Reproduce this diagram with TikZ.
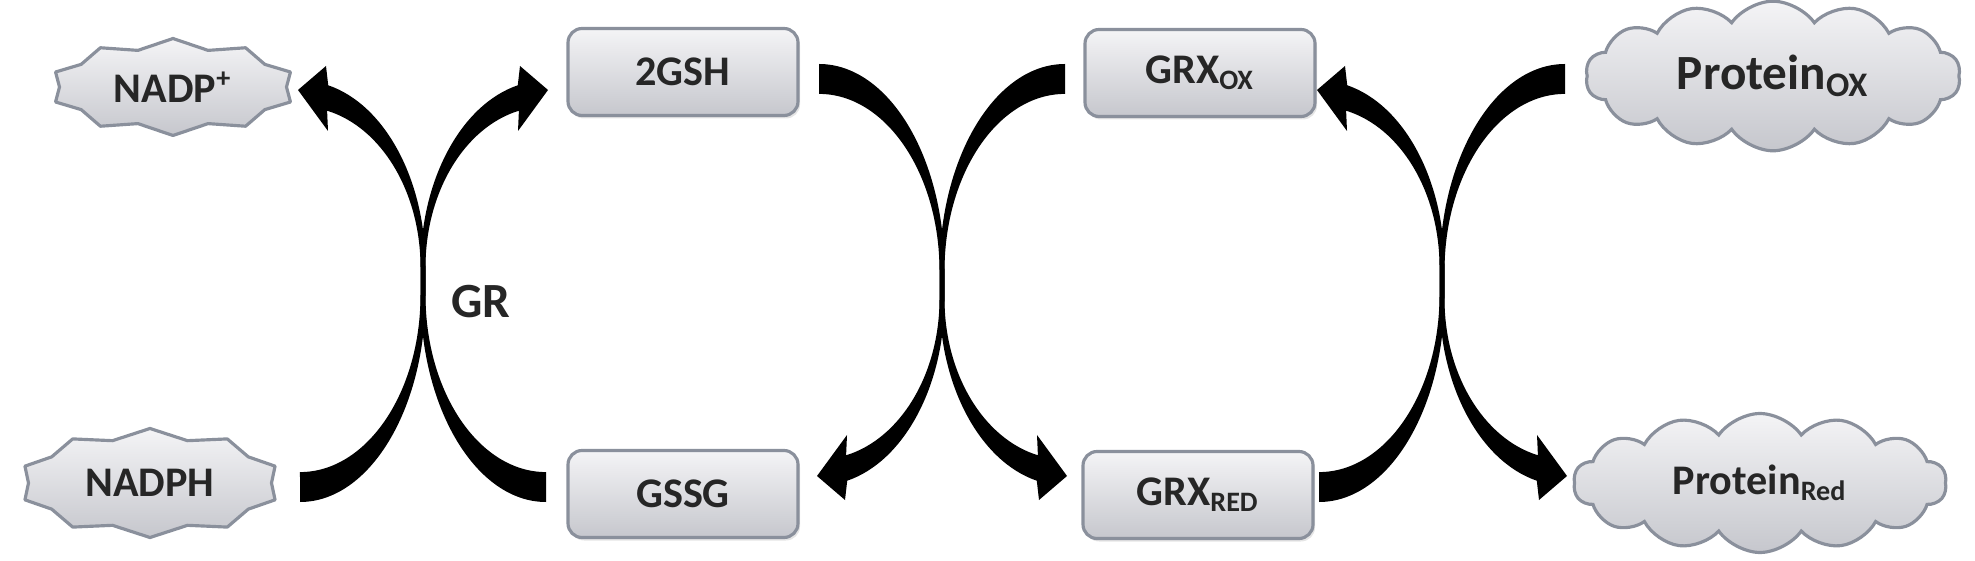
\documentclass[tikz,border=0pt]{standalone}
\usepackage{fontspec}
\setmainfont{Carlito}
\usetikzlibrary{shapes.symbols,shadows,calc,backgrounds}

\definecolor{rim}{HTML}{8A909C}
\definecolor{paletop}{HTML}{F4F4F6}
\definecolor{palebot}{HTML}{C6C7CD}
\definecolor{ink}{HTML}{262626}

\begin{document}
\begin{tikzpicture}
  \tikzstyle{molecule}=[rectangle,rounded corners=4pt,draw=rim,line width=0.9pt,top color=paletop,bottom color=palebot,minimum width=2.3cm,minimum height=0.87cm,font=\bfseries\fontsize{12}{14}\selectfont,text=ink,drop shadow={fill=black!25,opacity=0.4,shadow xshift=0.02cm,shadow yshift=-0.03cm}]
  \tikzstyle{cofactor}=[rectangle,font=\bfseries\fontsize{12}{14}\selectfont,text=ink]
  \tikzstyle{sealrim}=[draw=rim,line width=0.9pt,line join=round,top color=paletop,bottom color=palebot]
  \tikzstyle{protein}=[cloud,cloud puffs=14,cloud puff arc=110,aspect=2.6,draw=rim,line width=0.9pt,top color=paletop,bottom color=palebot,text=ink]
  \tikzstyle{enzyme}=[font=\bfseries\fontsize{14}{16}\selectfont,text=ink]
  \tikzset{swoop/.pic={
    \fill[black] (-1.23,-2.19) arc[start angle=-90,end angle=0,x radius=1.255,y radius=2.07]
      -- ++(0,0.28)
      arc[start angle=0,end angle=77,x radius=1.255,y radius=1.865]
      -- (-0.97,2.17) -- (-1.25,1.93) -- (-0.95,1.52) -- (-0.959,1.723)
      arc[start angle=77,end angle=0,x radius=1.205,y radius=1.605]
      -- ++(0,-0.28)
      arc[start angle=0,end angle=-90,x radius=1.205,y radius=1.77] -- cycle;
  }}
  \useasboundingbox (0,0) rectangle (19.75,5.6);
  \begin{scope}
     \node [cofactor,minimum width=2.47cm,minimum height=0.97cm] (nadp) at (1.73,4.73) {NADP\textsuperscript{+}};
     \node [cofactor,minimum width=2.63cm,minimum height=1.09cm] (nadph) at (1.50,0.77) {NADPH};
     \node [molecule] (gsh) at (6.83,4.88) {2GSH};
     \node [molecule] (gssg) at (6.83,0.66) {GSSG};
     \node [molecule] (grxox) at (12.00,4.87) {GRX\textsubscript{OX}};
     \node [molecule] (grxred) at (11.98,0.65) {GRX\textsubscript{RED}};
     \node [protein,minimum width=3.75cm,minimum height=1.42cm,font=\bfseries\fontsize{14}{16}\selectfont] (protox) at (17.73,4.84) {Protein\textsubscript{OX}};
     \node [protein,minimum width=3.73cm,minimum height=1.39cm,font=\bfseries\fontsize{12}{14}\selectfont] (protred) at (17.60,0.77) {Protein\textsubscript{Red}};
     \node [enzyme] (gr) at (4.81,2.58) {GR};
     % ten-point seals behind the cofactors
     \begin{scope}[on background layer]
        \foreach \n/\a/\b in {nadp/1.235/0.485,nadph/1.315/0.545}
           \path[sealrim] ($(\n)+(0,\b)$) \foreach \k in {1,...,19} {-- ($(\n)+({(\a-0.1*mod(\k,2))*cos(90+18*\k)},{(\b-0.1*mod(\k,2))*sin(90+18*\k)})$)} -- cycle;
     \end{scope}
     \coordinate (c1) at (4.23,2.77);
     \coordinate (c2) at (9.42,2.77);
     \coordinate (c3) at (14.42,2.77);
     % nadph -> nadp, gssg -> gsh
     \pic at (c1) {swoop};
     \pic [xscale=-1] at (c1) {swoop};
     % gsh -> gssg, grxox -> grxred
     \pic [yscale=-1] at (c2) {swoop};
     \pic [xscale=-1,yscale=-1] at (c2) {swoop};
     % grxred -> grxox, protox -> protred
     \pic at (c3) {swoop};
     \pic [xscale=-1,yscale=-1] at (c3) {swoop};
  \end{scope}
\end{tikzpicture}
\end{document}
